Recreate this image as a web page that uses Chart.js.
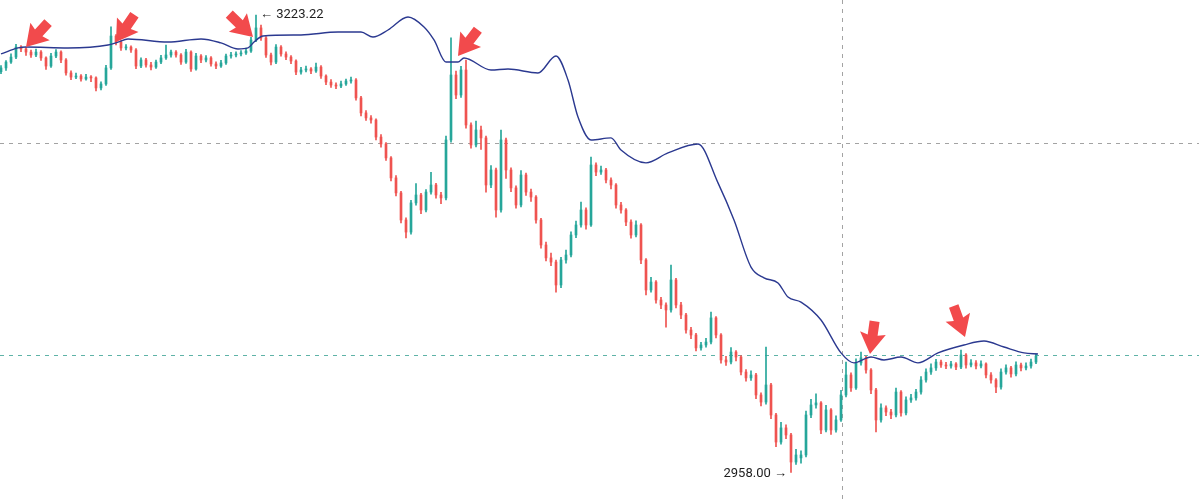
<!DOCTYPE html>
<html>
<head>
<meta charset="utf-8">
<script src="https://cdn.jsdelivr.net/npm/chart.js@4.4.1/dist/chart.umd.min.js"></script>
<style>
html, body { margin: 0; padding: 0; background: #fff; }
#wrap { position: relative; width: 1199px; height: 501px; }
</style>
</head>
<body>
<div id="wrap"><canvas id="chart"></canvas></div>
<script>
// --- Candle data (one candle per slot) ---
const opens = [
3190.4,3192.6,3196.0,3198.9,3204.7,3203.6,3201.8,3200.1,3201.8,3198.4,
3193.7,3199.5,3201.8,3197.2,3189.7,3187.3,3187.9,3186.2,3187.3,3186.8,
3181.0,3183.3,3192.6,3211.1,3207.6,3204.2,3204.7,3203.0,3193.7,3197.2,
3194.3,3193.1,3196.0,3198.4,3200.1,3201.8,3200.1,3196.0,3201.8,3192.0,
3199.5,3197.2,3198.4,3194.9,3193.7,3195.5,3199.5,3200.1,3200.7,3201.3,
3202.4,3208.8,3215.8,3210.0,3200.1,3196.0,3204.7,3200.7,3198.9,3196.6,
3190.2,3191.4,3192.0,3190.8,3193.1,3187.9,3184.4,3182.7,3182.1,3183.3,
3185.0,3185.6,3175.2,3166.5,3163.6,3162.4,3152.5,3148.5,3140.4,3128.8,
3120.1,3104.4,3097.4,3114.3,3118.9,3110.2,3120.6,3124.7,3118.9,3117.2,
3150.8,3188.5,3176.9,3191.4,3159.5,3147.9,3156.6,3152.0,3124.7,3133.4,
3110.2,3150.8,3133.4,3123.0,3113.1,3130.5,3120.6,3117.7,3104.4,3089.9,
3082.4,3080.0,3066.7,3081.2,3084.1,3095.7,3101.5,3110.2,3101.5,3136.3,
3132.2,3133.4,3127.6,3124.7,3113.1,3110.2,3103.2,3095.7,3101.5,3081.2,
3063.8,3068.4,3058.0,3055.1,3052.2,3069.6,3055.1,3049.3,3040.6,3037.7,
3030.2,3031.9,3033.6,3047.6,3037.7,3023.2,3022.0,3027.8,3024.9,3016.2,
3012.8,3014.5,3002.9,2998.8,3008.7,2991.3,2975.6,2983.8,2979.7,2964.0,
2966.4,2968.1,2991.3,2997.1,2998.3,2982.6,2994.2,2982.6,2988.4,3002.9,
3014.5,3007.0,3021.5,3024.4,3017.4,3005.8,2988.4,2995.4,2993.0,2991.3,
3004.6,2992.5,3000.0,3001.2,3004.6,3011.6,3016.2,3018.6,3022.0,3020.3,
3019.7,3020.9,3019.1,3026.1,3020.3,3021.5,3019.7,3020.9,3014.5,3011.6,
3007.5,3016.2,3018.6,3015.1,3020.3,3018.6,3019.7,3022.0
];
const highs = [
3194.0,3196.9,3200.8,3206.3,3205.5,3204.4,3202.9,3203.5,3202.6,3199.1,
3201.0,3203.2,3202.5,3198.0,3190.9,3189.6,3188.7,3188.9,3188.2,3187.5,
3184.6,3194.1,3216.4,3212.0,3208.5,3206.2,3205.4,3203.8,3198.5,3198.1,
3195.8,3197.1,3199.9,3205.9,3203.0,3202.7,3200.9,3203.4,3202.5,3201.1,
3200.4,3199.8,3199.2,3196.2,3197.0,3200.6,3201.7,3202.0,3202.6,3204.1,
3210.3,3223.22,3217.4,3210.8,3201.2,3206.1,3205.5,3201.9,3199.7,3197.3,
3192.9,3193.6,3192.8,3195.4,3193.9,3188.6,3185.8,3184.0,3184.9,3186.2,
3187.3,3186.4,3176.1,3167.9,3165.0,3163.1,3154.0,3149.3,3141.2,3130.1,
3121.0,3105.6,3115.8,3125.5,3119.8,3122.0,3132.0,3125.6,3120.5,3153.0,
3210.0,3190.7,3193.5,3197.2,3160.8,3161.8,3158.9,3153.1,3136.0,3134.5,
3156.6,3151.9,3134.7,3124.2,3133.0,3131.6,3122.3,3118.5,3105.3,3091.6,
3085.2,3081.1,3082.8,3086.9,3097.5,3103.8,3114.8,3111.4,3140.9,3137.5,
3135.6,3134.3,3128.9,3125.5,3114.6,3111.0,3104.5,3103.9,3102.3,3082.0,
3071.1,3069.3,3059.6,3056.3,3078.3,3070.5,3056.6,3050.2,3042.1,3038.6,
3033.5,3035.8,3051.0,3048.4,3038.5,3025.3,3030.4,3028.7,3025.7,3017.6,
3016.9,3015.4,3004.2,3030.7,3009.6,2992.2,2987.1,2985.6,2980.6,2971.4,
2970.5,2993.6,3000.4,3003.5,2999.1,2996.9,2995.0,2990.8,3005.6,3022.0,
3015.8,3023.9,3027.8,3025.3,3018.2,3006.7,2997.8,2996.6,2994.5,3006.9,
3005.5,3001.8,3003.3,3006.2,3013.5,3018.0,3020.9,3023.6,3023.1,3021.8,
3022.4,3021.7,3029.0,3026.9,3023.4,3022.8,3022.7,3021.6,3015.9,3012.4,
3018.1,3020.4,3019.5,3022.1,3021.4,3021.5,3023.7,3026.8
];
const lows = [
3189.2,3191.1,3195.2,3198.0,3202.1,3199.9,3198.7,3199.2,3196.9,3191.8,
3192.9,3198.6,3195.6,3188.4,3185.8,3186.4,3184.9,3185.5,3184.6,3179.2,
3179.9,3182.5,3191.8,3205.9,3202.7,3203.1,3201.6,3192.2,3192.8,3193.0,
3191.4,3192.3,3195.1,3197.5,3198.8,3198.9,3194.6,3195.2,3190.6,3191.3,
3195.7,3196.1,3193.6,3192.1,3192.9,3194.7,3198.3,3199.0,3199.6,3200.5,
3201.6,3207.9,3208.6,3198.7,3194.3,3195.1,3199.4,3197.4,3195.1,3188.7,
3189.0,3190.3,3189.2,3190.0,3186.5,3182.9,3181.3,3180.6,3181.2,3182.4,
3183.8,3173.9,3164.8,3162.2,3160.5,3150.9,3146.7,3138.9,3127.0,3118.4,
3102.7,3094.0,3096.2,3113.0,3108.1,3109.1,3119.4,3117.0,3113.9,3116.1,
3149.6,3174.8,3175.5,3157.7,3146.0,3146.8,3145.3,3120.6,3123.2,3106.0,
3109.0,3128.5,3120.8,3111.3,3112.0,3118.7,3115.2,3102.6,3088.1,3080.7,
3077.9,3062.6,3065.1,3079.4,3083.0,3094.2,3100.3,3099.0,3100.6,3130.1,
3130.8,3125.9,3122.4,3111.2,3108.3,3101.1,3093.8,3094.6,3079.0,3060.9,
3062.5,3056.2,3053.0,3042.3,3051.0,3053.4,3047.2,3038.7,3035.6,3028.4,
3028.9,3030.7,3032.5,3036.0,3021.4,3020.1,3020.9,3022.6,3014.5,3010.9,
3011.4,3000.8,2996.5,2997.6,2989.2,2972.9,2974.3,2977.5,2958.00,2962.6,
2963.4,2967.0,2989.8,2995.2,2980.4,2981.5,2980.0,2981.3,2987.5,3001.7,
3004.9,3006.1,3020.2,3015.6,3003.7,2981.4,2987.1,2990.9,2989.1,2990.2,
2990.6,2991.4,2998.6,2999.9,3003.4,3010.3,3014.8,3017.2,3018.9,3018.1,
3018.5,3017.6,3018.2,3018.4,3019.2,3018.0,3018.6,3012.8,3009.7,3004.2,
3006.3,3015.0,3013.2,3014.0,3016.9,3017.4,3018.5,3021.1
];
const closes = [
3192.6,3196.0,3198.9,3204.7,3203.6,3201.8,3200.1,3201.8,3198.4,3193.7,
3199.5,3201.8,3197.2,3189.7,3187.3,3187.9,3186.2,3187.3,3186.8,3181.0,
3183.3,3192.6,3211.1,3207.6,3204.2,3204.7,3203.0,3193.7,3197.2,3194.3,
3193.1,3196.0,3198.4,3200.1,3201.8,3200.1,3196.0,3201.8,3192.0,3199.5,
3197.2,3198.4,3194.9,3193.7,3195.5,3199.5,3200.1,3200.7,3201.3,3202.4,
3208.8,3215.8,3210.0,3200.1,3196.0,3204.7,3200.7,3198.9,3196.6,3190.2,
3191.4,3192.0,3190.8,3193.1,3187.9,3184.4,3182.7,3182.1,3183.3,3185.0,
3185.6,3175.2,3166.5,3163.6,3162.4,3152.5,3148.5,3140.4,3128.8,3120.1,
3104.4,3097.4,3114.3,3118.9,3110.2,3120.6,3124.7,3118.9,3117.2,3150.8,
3188.5,3176.9,3191.4,3159.5,3147.9,3156.6,3152.0,3124.7,3133.4,3110.2,
3150.8,3133.4,3123.0,3113.1,3130.5,3120.6,3117.7,3104.4,3089.9,3082.4,
3080.0,3066.7,3081.2,3084.1,3095.7,3101.5,3110.2,3101.5,3136.3,3132.2,
3133.4,3127.6,3124.7,3113.1,3110.2,3103.2,3095.7,3101.5,3081.2,3063.8,
3068.4,3058.0,3055.1,3052.2,3069.6,3055.1,3049.3,3040.6,3037.7,3030.2,
3031.9,3033.6,3047.6,3037.7,3023.2,3022.0,3027.8,3024.9,3016.2,3012.8,
3014.5,3002.9,2998.8,3008.7,2991.3,2975.6,2983.8,2979.7,2964.0,2968.1,
2968.1,2991.3,2997.1,2998.3,2982.6,2994.2,2982.6,2988.4,3002.9,3014.5,
3007.0,3021.5,3024.4,3017.4,3005.8,2988.4,2995.4,2993.0,2991.3,3004.6,
2992.5,3000.0,3001.2,3004.6,3011.6,3016.2,3018.6,3022.0,3020.3,3019.7,
3020.9,3019.1,3026.1,3020.3,3021.5,3019.7,3020.9,3014.5,3011.6,3007.5,
3016.2,3018.6,3015.1,3020.3,3018.6,3019.7,3022.0,3025.5
];

// --- Moving average (candle slot, value) ---
const maIdx = [0,3.4,5,13.4,21.4,23.4,25.4,33.4,40,44,47.4,49.4,50.6,52.4,60,67.4,72,74.4,77.4,81.4,
  84.6,86.6,89,91.4,92.6,98,101.4,107.4,111,113.4,115.4,118,122,124,129,133.4,139.4,143.4,146.6,150,
  152.6,155.4,157.4,160,164,168,170.6,174,176.6,180,183.4,187.4,192.6,196.6,200.6,204.6,207.4];
const maValues = [3200.7,3204.2,3204.7,3204.2,3205.9,3207.6,3209.4,3207.6,3209.4,3207.1,3203.6,3204.2,3207.6,3211.1,3211.7,3213.4,3213.4,3210.5,3214.6,3222.1,
  3216.3,3208.8,3196.0,3196.0,3198.4,3191.4,3192.0,3189.7,3199.5,3185.6,3164.1,3150.8,3152.0,3145.0,3137.5,3143.3,3148.5,3125.9,3104.4,3077.1,
  3070.8,3067.9,3059.7,3056.8,3046.4,3027.3,3021.5,3024.9,3023.2,3024.9,3021.5,3027.3,3031.9,3034.2,3030.7,3027.3,3026.7];

// --- Levels, marker and signals ---
const levelPrices = [3149.1, 3026.1];
const markerIdx = [168.2];
const signalIdx = [5, 23, 50.4, 91.4, 173.8, 192.8];
const signalPrice = [3204.7, 3207.6, 3210.5, 3199.5, 3026.7, 3036.5];

const UP = '#26a69a';
const DOWN = '#ef5350';
const candleColors = closes.map((c, i) => (c >= opens[i] ? UP : DOWN));

// arrow tilt in degrees (0 = pointing straight down)
const arrowTilt = [42, 34, -46, 37, 8, -20];

function drawArrow(ctx, px, py, tilt) {
    ctx.save();
    ctx.translate(px, py);
    ctx.rotate(tilt * Math.PI / 180);
    ctx.beginPath();
    ctx.moveTo(0, 0);
    ctx.lineTo(-13, -21);
    ctx.lineTo(-5, -19);
    ctx.lineTo(-5, -33);
    ctx.lineTo(5, -33);
    ctx.lineTo(5, -19);
    ctx.lineTo(13, -21);
    ctx.closePath();
    ctx.fill();
    ctx.restore();
}

const overlayPlugin = {
    id: 'overlay',
    beforeDatasetsDraw(chart) {
        const { ctx, chartArea: a, scales: { x, y } } = chart;
        ctx.save();
        ctx.lineWidth = 1;
        ctx.setLineDash([4, 5]);
        levelPrices.forEach((p, k) => {
            const py = Math.round(y.getPixelForValue(p)) + 0.5;
            ctx.strokeStyle = k === 0 ? '#a3a3a3' : '#5fb3a7';
            ctx.beginPath();
            ctx.moveTo(a.left, py);
            ctx.lineTo(a.right, py);
            ctx.stroke();
        });
        markerIdx.forEach(i => {
            const px = Math.round(x.getPixelForValue(i)) + 0.5;
            ctx.strokeStyle = '#a3a3a3';
            ctx.beginPath();
            ctx.moveTo(px, a.top);
            ctx.lineTo(px, a.bottom);
            ctx.stroke();
        });
        ctx.restore();
    },
    afterDatasetsDraw(chart) {
        const { ctx, scales: { x, y } } = chart;
        ctx.save();
        ctx.fillStyle = '#f24a4c';
        signalIdx.forEach((i, k) => {
            drawArrow(ctx, x.getPixelForValue(i), y.getPixelForValue(signalPrice[k]), arrowTilt[k]);
        });

        // extreme labels
        const hiIdx = highs.indexOf(Math.max(...highs));
        const loIdx = lows.indexOf(Math.min(...lows));
        ctx.fillStyle = '#1e1e1e';
        ctx.font = '13px Roboto, "Noto Sans", sans-serif';
        ctx.textBaseline = 'middle';
        ctx.textAlign = 'left';
        ctx.fillText('\u2190 ' + highs[hiIdx].toFixed(2), x.getPixelForValue(hiIdx) + 4, y.getPixelForValue(highs[hiIdx]));
        ctx.textAlign = 'right';
        ctx.fillText(lows[loIdx].toFixed(2) + ' \u2192', x.getPixelForValue(loIdx) - 4, y.getPixelForValue(lows[loIdx]) + 1);
        ctx.restore();
    }
};

new Chart(document.getElementById('chart'), {
    type: 'bar',
    data: {
        datasets: [
            {
                type: 'line',
                data: maIdx.map((i, k) => ({ x: i, y: maValues[k] })),
                borderColor: '#2b3990',
                borderWidth: 1.4,
                pointRadius: 0,
                cubicInterpolationMode: 'monotone',
                order: 0
            },
            {
                data: closes.map((c, i) => ({ x: i, y: [opens[i], c] })),
                backgroundColor: candleColors,
                barThickness: 2,
                minBarLength: 1,
                grouped: false,
                order: 1
            },
            {
                data: closes.map((c, i) => ({ x: i, y: [lows[i], highs[i]] })),
                backgroundColor: candleColors,
                barThickness: 1,
                grouped: false,
                order: 2
            }
        ]
    },
    options: {
        responsive: true,
        maintainAspectRatio: false,
        animation: false,
        devicePixelRatio: 1,
        layout: { padding: 0 },
        plugins: { legend: { display: false }, tooltip: { enabled: false } },
        scales: {
            x: { type: 'linear', min: -0.2, max: 239.6, offset: false, display: false },
            y: { type: 'linear', min: 2941.4, max: 3232, display: false }
        }
    },
    plugins: [overlayPlugin]
});
</script>
</body>
</html>
